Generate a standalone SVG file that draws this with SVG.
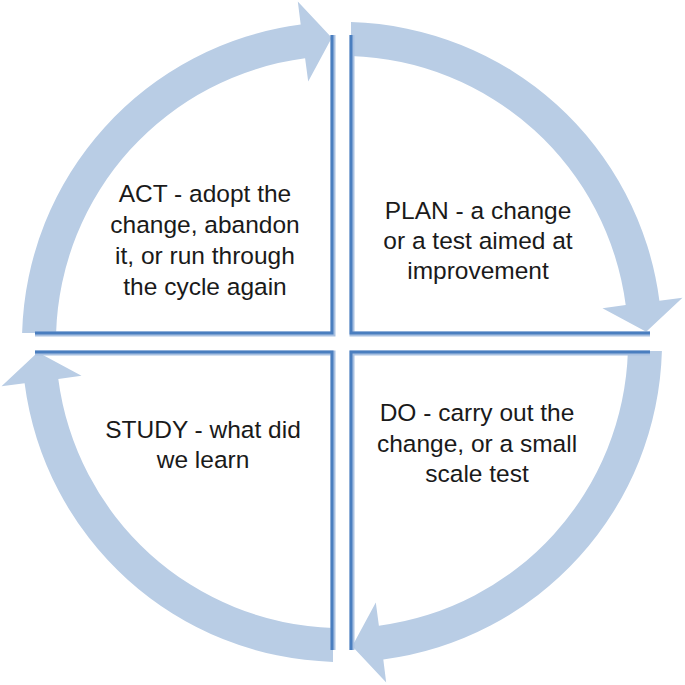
<svg xmlns="http://www.w3.org/2000/svg" xmlns:xlink="http://www.w3.org/1999/xlink" width="685" height="685" viewBox="0 0 685 685">
  <style>
    .arrow { fill: #B9CDE5; stroke: none; }
    .quad { fill: none; stroke: #4A7EBF; stroke-width: 3; stroke-linejoin: miter; stroke-linecap: butt; }
    .halo { fill: none; stroke: #A9C1E1; stroke-width: 5; stroke-linejoin: miter; }
    .label { font-family: "Liberation Sans", Arial, sans-serif; font-size: 24.5px; fill: #1A1A1A; text-anchor: middle; }
  </style>
  <defs>
    <path id="cycleArrow" class="arrow" d="M 22.1 333 A 320 320 0 0 1 300.7 24.6 L 297.8 1.5 L 331.8 37.8 L 308.2 81.5 L 305.1 58.3 A 286 286 0 0 0 56.1 333 Z"/>
  </defs>
  <rect width="685" height="685" fill="#FFFFFF"/>

  <g id="connectors">
    <use id="arrow-act-plan" xlink:href="#cycleArrow" href="#cycleArrow"/>
    <use id="arrow-plan-do" xlink:href="#cycleArrow" href="#cycleArrow" transform="rotate(90 342 342)"/>
    <use id="arrow-do-study" xlink:href="#cycleArrow" href="#cycleArrow" transform="rotate(180 342 342)"/>
    <use id="arrow-study-act" xlink:href="#cycleArrow" href="#cycleArrow" transform="rotate(270 342 342)"/>
  </g>

  <g id="act">
    <path class="halo" d="M 35 334 H 333 V 35"/>
    <path class="quad" d="M 35 333 H 332 V 35"/>
    <text class="label" x="205" y="202">ACT - adopt the</text>
    <text class="label" x="205" y="233">change, abandon</text>
    <text class="label" x="205" y="264">it, or run through</text>
    <text class="label" x="205" y="295">the cycle again</text>
  </g>

  <g id="plan">
    <path class="halo" d="M 352 35 V 334 H 650"/>
    <path class="quad" d="M 351 35 V 333 H 650"/>
    <text class="label" x="478" y="219">PLAN - a change</text>
    <text class="label" x="478" y="249">or a test aimed at</text>
    <text class="label" x="478" y="279">improvement</text>
  </g>

  <g id="do">
    <path class="halo" d="M 650 353 H 352 V 650"/>
    <path class="quad" d="M 650 352 H 351 V 650"/>
    <text class="label" x="477" y="421">DO - carry out the</text>
    <text class="label" x="477" y="452">change, or a small</text>
    <text class="label" x="477" y="482">scale test</text>
  </g>

  <g id="study">
    <path class="halo" d="M 333 650 V 353 H 35"/>
    <path class="quad" d="M 332 650 V 352 H 35"/>
    <text class="label" x="203" y="438">STUDY - what did</text>
    <text class="label" x="203" y="468">we learn</text>
  </g>
</svg>
